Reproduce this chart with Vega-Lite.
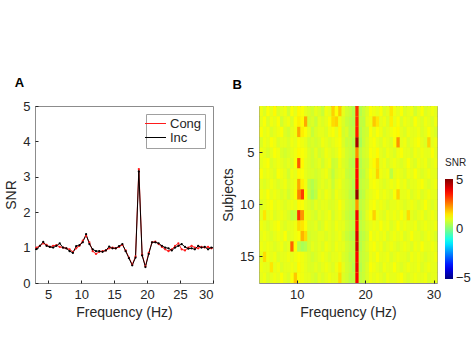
{
"$schema":"https://vega.github.io/schema/vega-lite/v6.json",
"background":"white",
"padding":{"left":4,"top":76,"right":0,"bottom":0},
"spacing":7,
"config":{
 "font":"Liberation Sans",
 "view":{"stroke":"#8c8c8c","strokeWidth":1},
 "axis":{"domain":false,"grid":false,"labelFontSize":13,"titleFontSize":14,"titleFontWeight":"normal","labelColor":"#262626","titleColor":"#262626","tickColor":"#262626","tickSize":-3,"labelPadding":8,"titlePadding":4},
 "title":{"fontSize":13,"fontWeight":"bold","color":"black","anchor":"start","frame":"bounds"}
},
"resolve":{"scale":{"color":"independent"},"legend":{"color":"independent"}},
"datasets":{
"snr":[
{"f":2.75,"c":"Cong","v":0.97},{"f":3.25,"c":"Cong","v":1.00},{"f":3.75,"c":"Cong","v":1.05},{"f":4.25,"c":"Cong","v":1.12},{"f":4.75,"c":"Cong","v":1.08},{"f":5.25,"c":"Cong","v":1.02},{"f":5.75,"c":"Cong","v":1.05},{"f":6.25,"c":"Cong","v":1.07},{"f":6.75,"c":"Cong","v":1.02},{"f":7.25,"c":"Cong","v":1.00},{"f":7.75,"c":"Cong","v":0.98},{"f":8.25,"c":"Cong","v":0.95},{"f":8.75,"c":"Cong","v":0.88},{"f":9.25,"c":"Cong","v":0.98},{"f":9.75,"c":"Cong","v":1.05},{"f":10.25,"c":"Cong","v":1.20},{"f":10.75,"c":"Cong","v":1.33},{"f":11.25,"c":"Cong","v":1.15},{"f":11.75,"c":"Cong","v":0.90},{"f":12.25,"c":"Cong","v":0.82},{"f":12.75,"c":"Cong","v":0.88},{"f":13.25,"c":"Cong","v":0.90},{"f":13.75,"c":"Cong","v":0.92},{"f":14.25,"c":"Cong","v":0.98},{"f":14.75,"c":"Cong","v":1.00},{"f":15.25,"c":"Cong","v":0.98},{"f":15.75,"c":"Cong","v":1.02},{"f":16.25,"c":"Cong","v":1.08},{"f":16.75,"c":"Cong","v":0.92},{"f":17.25,"c":"Cong","v":0.72},{"f":17.75,"c":"Cong","v":0.52},{"f":18.25,"c":"Cong","v":0.75},{"f":18.75,"c":"Cong","v":3.22},{"f":19.25,"c":"Cong","v":0.80},{"f":19.75,"c":"Cong","v":0.47},{"f":20.25,"c":"Cong","v":0.85},{"f":20.75,"c":"Cong","v":1.15},{"f":21.25,"c":"Cong","v":1.17},{"f":21.75,"c":"Cong","v":1.10},{"f":22.25,"c":"Cong","v":1.02},{"f":22.75,"c":"Cong","v":0.95},{"f":23.25,"c":"Cong","v":0.90},{"f":23.75,"c":"Cong","v":0.95},{"f":24.25,"c":"Cong","v":1.05},{"f":24.75,"c":"Cong","v":1.12},{"f":25.25,"c":"Cong","v":0.95},{"f":25.75,"c":"Cong","v":0.92},{"f":26.25,"c":"Cong","v":1.00},{"f":26.75,"c":"Cong","v":1.05},{"f":27.25,"c":"Cong","v":1.00},{"f":27.75,"c":"Cong","v":0.98},{"f":28.25,"c":"Cong","v":1.02},{"f":28.75,"c":"Cong","v":1.00},{"f":29.25,"c":"Cong","v":1.02},{"f":29.75,"c":"Cong","v":0.98},{"f":30.25,"c":"Cong","v":1.00},
{"f":2.75,"c":"Inc","v":0.93},{"f":3.25,"c":"Inc","v":0.96},{"f":3.75,"c":"Inc","v":1.05},{"f":4.25,"c":"Inc","v":1.16},{"f":4.75,"c":"Inc","v":1.05},{"f":5.25,"c":"Inc","v":1.02},{"f":5.75,"c":"Inc","v":1.00},{"f":6.25,"c":"Inc","v":1.05},{"f":6.75,"c":"Inc","v":1.12},{"f":7.25,"c":"Inc","v":1.00},{"f":7.75,"c":"Inc","v":0.98},{"f":8.25,"c":"Inc","v":0.90},{"f":8.75,"c":"Inc","v":0.85},{"f":9.25,"c":"Inc","v":1.04},{"f":9.75,"c":"Inc","v":1.07},{"f":10.25,"c":"Inc","v":1.15},{"f":10.75,"c":"Inc","v":1.38},{"f":11.25,"c":"Inc","v":1.10},{"f":11.75,"c":"Inc","v":0.95},{"f":12.25,"c":"Inc","v":0.90},{"f":12.75,"c":"Inc","v":0.90},{"f":13.25,"c":"Inc","v":0.88},{"f":13.75,"c":"Inc","v":0.92},{"f":14.25,"c":"Inc","v":1.03},{"f":14.75,"c":"Inc","v":0.98},{"f":15.25,"c":"Inc","v":0.98},{"f":15.75,"c":"Inc","v":1.04},{"f":16.25,"c":"Inc","v":1.10},{"f":16.75,"c":"Inc","v":0.90},{"f":17.25,"c":"Inc","v":0.70},{"f":17.75,"c":"Inc","v":0.50},{"f":18.25,"c":"Inc","v":0.72},{"f":18.75,"c":"Inc","v":3.15},{"f":19.25,"c":"Inc","v":0.78},{"f":19.75,"c":"Inc","v":0.45},{"f":20.25,"c":"Inc","v":0.82},{"f":20.75,"c":"Inc","v":1.15},{"f":21.25,"c":"Inc","v":1.15},{"f":21.75,"c":"Inc","v":1.12},{"f":22.25,"c":"Inc","v":1.05},{"f":22.75,"c":"Inc","v":1.00},{"f":23.25,"c":"Inc","v":0.98},{"f":23.75,"c":"Inc","v":0.92},{"f":24.25,"c":"Inc","v":1.00},{"f":24.75,"c":"Inc","v":1.05},{"f":25.25,"c":"Inc","v":1.10},{"f":25.75,"c":"Inc","v":1.02},{"f":26.25,"c":"Inc","v":0.97},{"f":26.75,"c":"Inc","v":0.98},{"f":27.25,"c":"Inc","v":0.95},{"f":27.75,"c":"Inc","v":1.05},{"f":28.25,"c":"Inc","v":1.00},{"f":28.75,"c":"Inc","v":1.02},{"f":29.25,"c":"Inc","v":0.95},{"f":29.75,"c":"Inc","v":1.00},{"f":30.25,"c":"Inc","v":1.00}
],
"cells":[
{"f":4.75,"s":1,"v":1.1},{"f":5.25,"s":1,"v":0.9},{"f":5.75,"s":1,"v":1.2},{"f":6.25,"s":1,"v":1.0},{"f":6.75,"s":1,"v":1.3},{"f":7.25,"s":1,"v":0.9},{"f":7.75,"s":1,"v":1.0},{"f":8.25,"s":1,"v":1.1},{"f":8.75,"s":1,"v":0.8},{"f":9.25,"s":1,"v":1.2},{"f":9.75,"s":1,"v":1.0},{"f":10.25,"s":1,"v":1.3},{"f":10.75,"s":1,"v":1.2},{"f":11.25,"s":1,"v":1.0},{"f":11.75,"s":1,"v":0.9},{"f":12.25,"s":1,"v":0.8},{"f":12.75,"s":1,"v":1.0},{"f":13.25,"s":1,"v":0.9},{"f":13.75,"s":1,"v":0.7},{"f":14.25,"s":1,"v":1.1},{"f":14.75,"s":1,"v":1.0},{"f":15.25,"s":1,"v":1.7},{"f":15.75,"s":1,"v":1.2},{"f":16.25,"s":1,"v":1.8},{"f":16.75,"s":1,"v":1.0},{"f":17.25,"s":1,"v":0.8},{"f":17.75,"s":1,"v":0.7},{"f":18.25,"s":1,"v":0.5},{"f":18.75,"s":1,"v":3.3},{"f":19.25,"s":1,"v":0.5},{"f":19.75,"s":1,"v":0.7},{"f":20.25,"s":1,"v":0.9},{"f":20.75,"s":1,"v":1.2},{"f":21.25,"s":1,"v":1.1},{"f":21.75,"s":1,"v":1.0},{"f":22.25,"s":1,"v":1.2},{"f":22.75,"s":1,"v":0.9},{"f":23.25,"s":1,"v":1.0},{"f":23.75,"s":1,"v":1.5},{"f":24.25,"s":1,"v":1.1},{"f":24.75,"s":1,"v":1.0},{"f":25.25,"s":1,"v":1.2},{"f":25.75,"s":1,"v":0.9},{"f":26.25,"s":1,"v":1.0},{"f":26.75,"s":1,"v":1.1},{"f":27.25,"s":1,"v":0.8},{"f":27.75,"s":1,"v":1.0},{"f":28.25,"s":1,"v":1.2},{"f":28.75,"s":1,"v":0.9},{"f":29.25,"s":1,"v":1.0},{"f":29.75,"s":1,"v":1.1},{"f":30.25,"s":1,"v":1.0},
{"f":4.75,"s":2,"v":1.0},{"f":5.25,"s":2,"v":1.2},{"f":5.75,"s":2,"v":0.9},{"f":6.25,"s":2,"v":1.1},{"f":6.75,"s":2,"v":1.0},{"f":7.25,"s":2,"v":1.2},{"f":7.75,"s":2,"v":0.8},{"f":8.25,"s":2,"v":1.0},{"f":8.75,"s":2,"v":1.1},{"f":9.25,"s":2,"v":0.9},{"f":9.75,"s":2,"v":1.2},{"f":10.25,"s":2,"v":1.4},{"f":10.75,"s":2,"v":1.3},{"f":11.25,"s":2,"v":2.1},{"f":11.75,"s":2,"v":0.8},{"f":12.25,"s":2,"v":0.9},{"f":12.75,"s":2,"v":0.7},{"f":13.25,"s":2,"v":1.0},{"f":13.75,"s":2,"v":0.9},{"f":14.25,"s":2,"v":1.0},{"f":14.75,"s":2,"v":1.2},{"f":15.25,"s":2,"v":1.6},{"f":15.75,"s":2,"v":1.7},{"f":16.25,"s":2,"v":1.1},{"f":16.75,"s":2,"v":0.9},{"f":17.25,"s":2,"v":0.7},{"f":17.75,"s":2,"v":0.6},{"f":18.25,"s":2,"v":0.5},{"f":18.75,"s":2,"v":3.4},{"f":19.25,"s":2,"v":0.6},{"f":19.75,"s":2,"v":0.6},{"f":20.25,"s":2,"v":1.0},{"f":20.75,"s":2,"v":1.1},{"f":21.25,"s":2,"v":1.8},{"f":21.75,"s":2,"v":1.5},{"f":22.25,"s":2,"v":1.0},{"f":22.75,"s":2,"v":1.1},{"f":23.25,"s":2,"v":0.9},{"f":23.75,"s":2,"v":1.4},{"f":24.25,"s":2,"v":1.0},{"f":24.75,"s":2,"v":1.2},{"f":25.25,"s":2,"v":0.9},{"f":25.75,"s":2,"v":1.1},{"f":26.25,"s":2,"v":1.0},{"f":26.75,"s":2,"v":0.9},{"f":27.25,"s":2,"v":1.2},{"f":27.75,"s":2,"v":1.0},{"f":28.25,"s":2,"v":0.9},{"f":28.75,"s":2,"v":1.1},{"f":29.25,"s":2,"v":1.0},{"f":29.75,"s":2,"v":0.9},{"f":30.25,"s":2,"v":1.1},
{"f":4.75,"s":3,"v":1.2},{"f":5.25,"s":3,"v":1.0},{"f":5.75,"s":3,"v":1.1},{"f":6.25,"s":3,"v":0.9},{"f":6.75,"s":3,"v":1.0},{"f":7.25,"s":3,"v":1.1},{"f":7.75,"s":3,"v":1.2},{"f":8.25,"s":3,"v":0.9},{"f":8.75,"s":3,"v":0.8},{"f":9.25,"s":3,"v":1.0},{"f":9.75,"s":3,"v":1.1},{"f":10.25,"s":3,"v":2.1},{"f":10.75,"s":3,"v":1.4},{"f":11.25,"s":3,"v":1.2},{"f":11.75,"s":3,"v":1.0},{"f":12.25,"s":3,"v":0.7},{"f":12.75,"s":3,"v":0.9},{"f":13.25,"s":3,"v":1.0},{"f":13.75,"s":3,"v":1.0},{"f":14.25,"s":3,"v":0.9},{"f":14.75,"s":3,"v":1.1},{"f":15.25,"s":3,"v":1.2},{"f":15.75,"s":3,"v":1.0},{"f":16.25,"s":3,"v":1.3},{"f":16.75,"s":3,"v":0.8},{"f":17.25,"s":3,"v":0.9},{"f":17.75,"s":3,"v":0.6},{"f":18.25,"s":3,"v":0.6},{"f":18.75,"s":3,"v":3.5},{"f":19.25,"s":3,"v":0.5},{"f":19.75,"s":3,"v":0.7},{"f":20.25,"s":3,"v":0.8},{"f":20.75,"s":3,"v":1.2},{"f":21.25,"s":3,"v":1.0},{"f":21.75,"s":3,"v":1.2},{"f":22.25,"s":3,"v":1.1},{"f":22.75,"s":3,"v":0.9},{"f":23.25,"s":3,"v":1.0},{"f":23.75,"s":3,"v":1.1},{"f":24.25,"s":3,"v":1.2},{"f":24.75,"s":3,"v":1.3},{"f":25.25,"s":3,"v":1.0},{"f":25.75,"s":3,"v":0.9},{"f":26.25,"s":3,"v":1.1},{"f":26.75,"s":3,"v":1.0},{"f":27.25,"s":3,"v":1.0},{"f":27.75,"s":3,"v":1.1},{"f":28.25,"s":3,"v":0.9},{"f":28.75,"s":3,"v":1.0},{"f":29.25,"s":3,"v":1.2},{"f":29.75,"s":3,"v":1.0},{"f":30.25,"s":3,"v":0.9},
{"f":4.75,"s":4,"v":0.9},{"f":5.25,"s":4,"v":1.1},{"f":5.75,"s":4,"v":1.0},{"f":6.25,"s":4,"v":1.2},{"f":6.75,"s":4,"v":1.1},{"f":7.25,"s":4,"v":0.9},{"f":7.75,"s":4,"v":1.0},{"f":8.25,"s":4,"v":1.0},{"f":8.75,"s":4,"v":0.9},{"f":9.25,"s":4,"v":1.1},{"f":9.75,"s":4,"v":1.0},{"f":10.25,"s":4,"v":1.2},{"f":10.75,"s":4,"v":1.1},{"f":11.25,"s":4,"v":1.0},{"f":11.75,"s":4,"v":0.8},{"f":12.25,"s":4,"v":0.9},{"f":12.75,"s":4,"v":0.8},{"f":13.25,"s":4,"v":0.9},{"f":13.75,"s":4,"v":1.1},{"f":14.25,"s":4,"v":1.0},{"f":14.75,"s":4,"v":0.9},{"f":15.25,"s":4,"v":1.0},{"f":15.75,"s":4,"v":1.1},{"f":16.25,"s":4,"v":1.2},{"f":16.75,"s":4,"v":0.9},{"f":17.25,"s":4,"v":0.7},{"f":17.75,"s":4,"v":0.7},{"f":18.25,"s":4,"v":0.5},{"f":18.75,"s":4,"v":4.6},{"f":19.25,"s":4,"v":0.4},{"f":19.75,"s":4,"v":0.7},{"f":20.25,"s":4,"v":0.9},{"f":20.75,"s":4,"v":1.1},{"f":21.25,"s":4,"v":1.2},{"f":21.75,"s":4,"v":1.0},{"f":22.25,"s":4,"v":0.9},{"f":22.75,"s":4,"v":1.1},{"f":23.25,"s":4,"v":1.0},{"f":23.75,"s":4,"v":0.9},{"f":24.25,"s":4,"v":1.2},{"f":24.75,"s":4,"v":2.3},{"f":25.25,"s":4,"v":1.0},{"f":25.75,"s":4,"v":1.1},{"f":26.25,"s":4,"v":0.9},{"f":26.75,"s":4,"v":1.0},{"f":27.25,"s":4,"v":1.1},{"f":27.75,"s":4,"v":1.2},{"f":28.25,"s":4,"v":1.0},{"f":28.75,"s":4,"v":0.9},{"f":29.25,"s":4,"v":1.7},{"f":29.75,"s":4,"v":1.0},{"f":30.25,"s":4,"v":1.1},
{"f":4.75,"s":5,"v":1.1},{"f":5.25,"s":5,"v":1.0},{"f":5.75,"s":5,"v":0.9},{"f":6.25,"s":5,"v":1.0},{"f":6.75,"s":5,"v":1.2},{"f":7.25,"s":5,"v":1.1},{"f":7.75,"s":5,"v":0.9},{"f":8.25,"s":5,"v":0.8},{"f":8.75,"s":5,"v":0.9},{"f":9.25,"s":5,"v":1.0},{"f":9.75,"s":5,"v":1.1},{"f":10.25,"s":5,"v":1.3},{"f":10.75,"s":5,"v":1.2},{"f":11.25,"s":5,"v":1.1},{"f":11.75,"s":5,"v":0.9},{"f":12.25,"s":5,"v":0.8},{"f":12.75,"s":5,"v":1.0},{"f":13.25,"s":5,"v":0.8},{"f":13.75,"s":5,"v":0.9},{"f":14.25,"s":5,"v":1.1},{"f":14.75,"s":5,"v":1.0},{"f":15.25,"s":5,"v":0.9},{"f":15.75,"s":5,"v":1.0},{"f":16.25,"s":5,"v":1.2},{"f":16.75,"s":5,"v":1.0},{"f":17.25,"s":5,"v":0.8},{"f":17.75,"s":5,"v":0.7},{"f":18.25,"s":5,"v":0.6},{"f":18.75,"s":5,"v":2.4},{"f":19.25,"s":5,"v":0.6},{"f":19.75,"s":5,"v":0.8},{"f":20.25,"s":5,"v":0.9},{"f":20.75,"s":5,"v":1.2},{"f":21.25,"s":5,"v":1.1},{"f":21.75,"s":5,"v":1.3},{"f":22.25,"s":5,"v":1.0},{"f":22.75,"s":5,"v":0.9},{"f":23.25,"s":5,"v":1.1},{"f":23.75,"s":5,"v":1.0},{"f":24.25,"s":5,"v":0.9},{"f":24.75,"s":5,"v":1.1},{"f":25.25,"s":5,"v":1.2},{"f":25.75,"s":5,"v":1.0},{"f":26.25,"s":5,"v":1.0},{"f":26.75,"s":5,"v":0.9},{"f":27.25,"s":5,"v":1.1},{"f":27.75,"s":5,"v":1.0},{"f":28.25,"s":5,"v":1.1},{"f":28.75,"s":5,"v":1.0},{"f":29.25,"s":5,"v":1.0},{"f":29.75,"s":5,"v":1.2},{"f":30.25,"s":5,"v":1.0},
{"f":4.75,"s":6,"v":1.0},{"f":5.25,"s":6,"v":1.1},{"f":5.75,"s":6,"v":1.2},{"f":6.25,"s":6,"v":0.9},{"f":6.75,"s":6,"v":1.0},{"f":7.25,"s":6,"v":1.1},{"f":7.75,"s":6,"v":1.0},{"f":8.25,"s":6,"v":0.9},{"f":8.75,"s":6,"v":1.0},{"f":9.25,"s":6,"v":0.9},{"f":9.75,"s":6,"v":1.2},{"f":10.25,"s":6,"v":2.9},{"f":10.75,"s":6,"v":1.3},{"f":11.25,"s":6,"v":1.0},{"f":11.75,"s":6,"v":0.9},{"f":12.25,"s":6,"v":0.8},{"f":12.75,"s":6,"v":0.9},{"f":13.25,"s":6,"v":1.0},{"f":13.75,"s":6,"v":0.8},{"f":14.25,"s":6,"v":1.0},{"f":14.75,"s":6,"v":1.1},{"f":15.25,"s":6,"v":0.7},{"f":15.75,"s":6,"v":0.8},{"f":16.25,"s":6,"v":1.1},{"f":16.75,"s":6,"v":0.9},{"f":17.25,"s":6,"v":0.8},{"f":17.75,"s":6,"v":0.6},{"f":18.25,"s":6,"v":0.5},{"f":18.75,"s":6,"v":3.6},{"f":19.25,"s":6,"v":0.5},{"f":19.75,"s":6,"v":0.7},{"f":20.25,"s":6,"v":0.8},{"f":20.75,"s":6,"v":1.1},{"f":21.25,"s":6,"v":1.3},{"f":21.75,"s":6,"v":1.6},{"f":22.25,"s":6,"v":1.0},{"f":22.75,"s":6,"v":1.1},{"f":23.25,"s":6,"v":0.9},{"f":23.75,"s":6,"v":1.0},{"f":24.25,"s":6,"v":1.1},{"f":24.75,"s":6,"v":1.0},{"f":25.25,"s":6,"v":0.9},{"f":25.75,"s":6,"v":1.0},{"f":26.25,"s":6,"v":1.2},{"f":26.75,"s":6,"v":1.0},{"f":27.25,"s":6,"v":0.9},{"f":27.75,"s":6,"v":1.1},{"f":28.25,"s":6,"v":1.0},{"f":28.75,"s":6,"v":1.1},{"f":29.25,"s":6,"v":0.9},{"f":29.75,"s":6,"v":1.0},{"f":30.25,"s":6,"v":1.1},
{"f":4.75,"s":7,"v":1.2},{"f":5.25,"s":7,"v":1.0},{"f":5.75,"s":7,"v":1.1},{"f":6.25,"s":7,"v":1.0},{"f":6.75,"s":7,"v":0.9},{"f":7.25,"s":7,"v":1.2},{"f":7.75,"s":7,"v":1.1},{"f":8.25,"s":7,"v":1.0},{"f":8.75,"s":7,"v":0.8},{"f":9.25,"s":7,"v":1.1},{"f":9.75,"s":7,"v":1.0},{"f":10.25,"s":7,"v":1.3},{"f":10.75,"s":7,"v":1.2},{"f":11.25,"s":7,"v":1.0},{"f":11.75,"s":7,"v":0.9},{"f":12.25,"s":7,"v":0.9},{"f":12.75,"s":7,"v":0.8},{"f":13.25,"s":7,"v":0.9},{"f":13.75,"s":7,"v":1.0},{"f":14.25,"s":7,"v":1.1},{"f":14.75,"s":7,"v":0.9},{"f":15.25,"s":7,"v":0.6},{"f":15.75,"s":7,"v":0.9},{"f":16.25,"s":7,"v":1.0},{"f":16.75,"s":7,"v":1.0},{"f":17.25,"s":7,"v":0.7},{"f":17.75,"s":7,"v":0.6},{"f":18.25,"s":7,"v":0.6},{"f":18.75,"s":7,"v":3.7},{"f":19.25,"s":7,"v":0.5},{"f":19.75,"s":7,"v":0.6},{"f":20.25,"s":7,"v":0.9},{"f":20.75,"s":7,"v":1.2},{"f":21.25,"s":7,"v":1.1},{"f":21.75,"s":7,"v":1.7},{"f":22.25,"s":7,"v":1.1},{"f":22.75,"s":7,"v":1.0},{"f":23.25,"s":7,"v":1.1},{"f":23.75,"s":7,"v":0.6},{"f":24.25,"s":7,"v":1.0},{"f":24.75,"s":7,"v":1.1},{"f":25.25,"s":7,"v":1.0},{"f":25.75,"s":7,"v":0.9},{"f":26.25,"s":7,"v":1.1},{"f":26.75,"s":7,"v":1.0},{"f":27.25,"s":7,"v":1.2},{"f":27.75,"s":7,"v":1.0},{"f":28.25,"s":7,"v":0.9},{"f":28.75,"s":7,"v":1.0},{"f":29.25,"s":7,"v":1.1},{"f":29.75,"s":7,"v":1.0},{"f":30.25,"s":7,"v":1.0},
{"f":4.75,"s":8,"v":1.0},{"f":5.25,"s":8,"v":0.9},{"f":5.75,"s":8,"v":1.0},{"f":6.25,"s":8,"v":1.1},{"f":6.75,"s":8,"v":1.0},{"f":7.25,"s":8,"v":0.9},{"f":7.75,"s":8,"v":1.0},{"f":8.25,"s":8,"v":1.1},{"f":8.75,"s":8,"v":0.9},{"f":9.25,"s":8,"v":1.0},{"f":9.75,"s":8,"v":1.1},{"f":10.25,"s":8,"v":2.1},{"f":10.75,"s":8,"v":1.4},{"f":11.25,"s":8,"v":1.1},{"f":11.75,"s":8,"v":0.6},{"f":12.25,"s":8,"v":0.5},{"f":12.75,"s":8,"v":0.7},{"f":13.25,"s":8,"v":0.9},{"f":13.75,"s":8,"v":1.0},{"f":14.25,"s":8,"v":0.9},{"f":14.75,"s":8,"v":1.0},{"f":15.25,"s":8,"v":0.7},{"f":15.75,"s":8,"v":1.0},{"f":16.25,"s":8,"v":1.1},{"f":16.75,"s":8,"v":0.9},{"f":17.25,"s":8,"v":0.8},{"f":17.75,"s":8,"v":0.7},{"f":18.25,"s":8,"v":0.5},{"f":18.75,"s":8,"v":3.8},{"f":19.25,"s":8,"v":0.6},{"f":19.75,"s":8,"v":0.7},{"f":20.25,"s":8,"v":0.8},{"f":20.75,"s":8,"v":1.1},{"f":21.25,"s":8,"v":1.2},{"f":21.75,"s":8,"v":1.1},{"f":22.25,"s":8,"v":1.0},{"f":22.75,"s":8,"v":0.9},{"f":23.25,"s":8,"v":1.0},{"f":23.75,"s":8,"v":1.1},{"f":24.25,"s":8,"v":1.0},{"f":24.75,"s":8,"v":1.2},{"f":25.25,"s":8,"v":1.0},{"f":25.75,"s":8,"v":1.1},{"f":26.25,"s":8,"v":0.9},{"f":26.75,"s":8,"v":1.0},{"f":27.25,"s":8,"v":1.0},{"f":27.75,"s":8,"v":1.1},{"f":28.25,"s":8,"v":1.2},{"f":28.75,"s":8,"v":1.0},{"f":29.25,"s":8,"v":0.9},{"f":29.75,"s":8,"v":1.0},{"f":30.25,"s":8,"v":1.1},
{"f":4.75,"s":9,"v":1.1},{"f":5.25,"s":9,"v":1.0},{"f":5.75,"s":9,"v":1.2},{"f":6.25,"s":9,"v":1.0},{"f":6.75,"s":9,"v":1.1},{"f":7.25,"s":9,"v":1.0},{"f":7.75,"s":9,"v":0.9},{"f":8.25,"s":9,"v":1.0},{"f":8.75,"s":9,"v":0.8},{"f":9.25,"s":9,"v":1.0},{"f":9.75,"s":9,"v":1.2},{"f":10.25,"s":9,"v":2.5},{"f":10.75,"s":9,"v":3.2},{"f":11.25,"s":9,"v":1.2},{"f":11.75,"s":9,"v":0.6},{"f":12.25,"s":9,"v":0.4},{"f":12.75,"s":9,"v":0.6},{"f":13.25,"s":9,"v":1.0},{"f":13.75,"s":9,"v":0.9},{"f":14.25,"s":9,"v":1.1},{"f":14.75,"s":9,"v":1.0},{"f":15.25,"s":9,"v":0.8},{"f":15.75,"s":9,"v":1.1},{"f":16.25,"s":9,"v":1.0},{"f":16.75,"s":9,"v":0.9},{"f":17.25,"s":9,"v":0.8},{"f":17.75,"s":9,"v":0.6},{"f":18.25,"s":9,"v":0.5},{"f":18.75,"s":9,"v":4.8},{"f":19.25,"s":9,"v":0.5},{"f":19.75,"s":9,"v":0.6},{"f":20.25,"s":9,"v":0.9},{"f":20.75,"s":9,"v":1.0},{"f":21.25,"s":9,"v":1.1},{"f":21.75,"s":9,"v":1.2},{"f":22.25,"s":9,"v":1.0},{"f":22.75,"s":9,"v":1.1},{"f":23.25,"s":9,"v":1.0},{"f":23.75,"s":9,"v":0.9},{"f":24.25,"s":9,"v":1.2},{"f":24.75,"s":9,"v":1.7},{"f":25.25,"s":9,"v":1.0},{"f":25.75,"s":9,"v":1.0},{"f":26.25,"s":9,"v":1.1},{"f":26.75,"s":9,"v":0.9},{"f":27.25,"s":9,"v":1.0},{"f":27.75,"s":9,"v":1.1},{"f":28.25,"s":9,"v":0.9},{"f":28.75,"s":9,"v":1.0},{"f":29.25,"s":9,"v":1.1},{"f":29.75,"s":9,"v":1.0},{"f":30.25,"s":9,"v":1.0},
{"f":4.75,"s":10,"v":0.9},{"f":5.25,"s":10,"v":1.0},{"f":5.75,"s":10,"v":1.1},{"f":6.25,"s":10,"v":1.2},{"f":6.75,"s":10,"v":1.0},{"f":7.25,"s":10,"v":1.1},{"f":7.75,"s":10,"v":1.0},{"f":8.25,"s":10,"v":0.9},{"f":8.75,"s":10,"v":1.0},{"f":9.25,"s":10,"v":1.1},{"f":9.75,"s":10,"v":1.0},{"f":10.25,"s":10,"v":1.3},{"f":10.75,"s":10,"v":1.2},{"f":11.25,"s":10,"v":1.0},{"f":11.75,"s":10,"v":0.9},{"f":12.25,"s":10,"v":0.8},{"f":12.75,"s":10,"v":1.0},{"f":13.25,"s":10,"v":0.9},{"f":13.75,"s":10,"v":1.0},{"f":14.25,"s":10,"v":1.0},{"f":14.75,"s":10,"v":0.9},{"f":15.25,"s":10,"v":0.9},{"f":15.75,"s":10,"v":1.0},{"f":16.25,"s":10,"v":1.2},{"f":16.75,"s":10,"v":1.0},{"f":17.25,"s":10,"v":0.8},{"f":17.75,"s":10,"v":0.7},{"f":18.25,"s":10,"v":0.6},{"f":18.75,"s":10,"v":2.3},{"f":19.25,"s":10,"v":0.6},{"f":19.75,"s":10,"v":0.7},{"f":20.25,"s":10,"v":0.9},{"f":20.75,"s":10,"v":1.1},{"f":21.25,"s":10,"v":1.2},{"f":21.75,"s":10,"v":1.0},{"f":22.25,"s":10,"v":1.1},{"f":22.75,"s":10,"v":1.0},{"f":23.25,"s":10,"v":0.9},{"f":23.75,"s":10,"v":1.0},{"f":24.25,"s":10,"v":1.0},{"f":24.75,"s":10,"v":1.1},{"f":25.25,"s":10,"v":1.0},{"f":25.75,"s":10,"v":0.9},{"f":26.25,"s":10,"v":1.0},{"f":26.75,"s":10,"v":1.1},{"f":27.25,"s":10,"v":1.0},{"f":27.75,"s":10,"v":0.9},{"f":28.25,"s":10,"v":1.0},{"f":28.75,"s":10,"v":1.2},{"f":29.25,"s":10,"v":1.0},{"f":29.75,"s":10,"v":0.9},{"f":30.25,"s":10,"v":1.0},
{"f":4.75,"s":11,"v":1.0},{"f":5.25,"s":11,"v":1.5},{"f":5.75,"s":11,"v":1.0},{"f":6.25,"s":11,"v":1.1},{"f":6.75,"s":11,"v":0.9},{"f":7.25,"s":11,"v":1.0},{"f":7.75,"s":11,"v":1.1},{"f":8.25,"s":11,"v":1.0},{"f":8.75,"s":11,"v":0.9},{"f":9.25,"s":11,"v":0.6},{"f":9.75,"s":11,"v":0.7},{"f":10.25,"s":11,"v":3.3},{"f":10.75,"s":11,"v":2.3},{"f":11.25,"s":11,"v":1.1},{"f":11.75,"s":11,"v":1.0},{"f":12.25,"s":11,"v":0.9},{"f":12.75,"s":11,"v":0.8},{"f":13.25,"s":11,"v":1.0},{"f":13.75,"s":11,"v":0.9},{"f":14.25,"s":11,"v":1.0},{"f":14.75,"s":11,"v":1.1},{"f":15.25,"s":11,"v":0.8},{"f":15.75,"s":11,"v":1.0},{"f":16.25,"s":11,"v":1.1},{"f":16.75,"s":11,"v":0.9},{"f":17.25,"s":11,"v":0.7},{"f":17.75,"s":11,"v":0.6},{"f":18.25,"s":11,"v":0.5},{"f":18.75,"s":11,"v":3.9},{"f":19.25,"s":11,"v":0.5},{"f":19.75,"s":11,"v":0.7},{"f":20.25,"s":11,"v":1.0},{"f":20.75,"s":11,"v":1.2},{"f":21.25,"s":11,"v":1.7},{"f":21.75,"s":11,"v":1.1},{"f":22.25,"s":11,"v":1.0},{"f":22.75,"s":11,"v":0.9},{"f":23.25,"s":11,"v":1.1},{"f":23.75,"s":11,"v":1.0},{"f":24.25,"s":11,"v":1.1},{"f":24.75,"s":11,"v":1.0},{"f":25.25,"s":11,"v":1.2},{"f":25.75,"s":11,"v":1.0},{"f":26.25,"s":11,"v":1.6},{"f":26.75,"s":11,"v":1.0},{"f":27.25,"s":11,"v":0.9},{"f":27.75,"s":11,"v":1.0},{"f":28.25,"s":11,"v":1.1},{"f":28.75,"s":11,"v":0.9},{"f":29.25,"s":11,"v":1.0},{"f":29.75,"s":11,"v":1.1},{"f":30.25,"s":11,"v":1.0},
{"f":4.75,"s":12,"v":1.1},{"f":5.25,"s":12,"v":1.0},{"f":5.75,"s":12,"v":0.9},{"f":6.25,"s":12,"v":1.0},{"f":6.75,"s":12,"v":1.1},{"f":7.25,"s":12,"v":1.2},{"f":7.75,"s":12,"v":1.0},{"f":8.25,"s":12,"v":0.9},{"f":8.75,"s":12,"v":1.0},{"f":9.25,"s":12,"v":1.0},{"f":9.75,"s":12,"v":1.1},{"f":10.25,"s":12,"v":1.6},{"f":10.75,"s":12,"v":1.5},{"f":11.25,"s":12,"v":1.2},{"f":11.75,"s":12,"v":0.9},{"f":12.25,"s":12,"v":0.9},{"f":12.75,"s":12,"v":1.0},{"f":13.25,"s":12,"v":0.8},{"f":13.75,"s":12,"v":0.9},{"f":14.25,"s":12,"v":1.1},{"f":14.75,"s":12,"v":1.0},{"f":15.25,"s":12,"v":0.9},{"f":15.75,"s":12,"v":1.1},{"f":16.25,"s":12,"v":1.0},{"f":16.75,"s":12,"v":1.0},{"f":17.25,"s":12,"v":0.8},{"f":17.75,"s":12,"v":0.7},{"f":18.25,"s":12,"v":0.6},{"f":18.75,"s":12,"v":3.7},{"f":19.25,"s":12,"v":0.6},{"f":19.75,"s":12,"v":0.7},{"f":20.25,"s":12,"v":0.9},{"f":20.75,"s":12,"v":1.0},{"f":21.25,"s":12,"v":1.1},{"f":21.75,"s":12,"v":1.0},{"f":22.25,"s":12,"v":1.2},{"f":22.75,"s":12,"v":1.0},{"f":23.25,"s":12,"v":1.1},{"f":23.75,"s":12,"v":0.9},{"f":24.25,"s":12,"v":1.0},{"f":24.75,"s":12,"v":1.2},{"f":25.25,"s":12,"v":1.0},{"f":25.75,"s":12,"v":1.1},{"f":26.25,"s":12,"v":1.0},{"f":26.75,"s":12,"v":1.0},{"f":27.25,"s":12,"v":1.1},{"f":27.75,"s":12,"v":0.9},{"f":28.25,"s":12,"v":1.0},{"f":28.75,"s":12,"v":1.1},{"f":29.25,"s":12,"v":1.0},{"f":29.75,"s":12,"v":1.0},{"f":30.25,"s":12,"v":1.1},
{"f":4.75,"s":13,"v":1.0},{"f":5.25,"s":13,"v":1.1},{"f":5.75,"s":13,"v":1.0},{"f":6.25,"s":13,"v":0.9},{"f":6.75,"s":13,"v":1.0},{"f":7.25,"s":13,"v":1.1},{"f":7.75,"s":13,"v":1.0},{"f":8.25,"s":13,"v":1.2},{"f":8.75,"s":13,"v":0.9},{"f":9.25,"s":13,"v":1.0},{"f":9.75,"s":13,"v":1.1},{"f":10.25,"s":13,"v":1.2},{"f":10.75,"s":13,"v":2.0},{"f":11.25,"s":13,"v":1.6},{"f":11.75,"s":13,"v":0.8},{"f":12.25,"s":13,"v":0.9},{"f":12.75,"s":13,"v":0.9},{"f":13.25,"s":13,"v":1.0},{"f":13.75,"s":13,"v":1.0},{"f":14.25,"s":13,"v":0.9},{"f":14.75,"s":13,"v":1.0},{"f":15.25,"s":13,"v":0.9},{"f":15.75,"s":13,"v":1.0},{"f":16.25,"s":13,"v":1.1},{"f":16.75,"s":13,"v":0.9},{"f":17.25,"s":13,"v":0.7},{"f":17.75,"s":13,"v":0.6},{"f":18.25,"s":13,"v":0.5},{"f":18.75,"s":13,"v":4.1},{"f":19.25,"s":13,"v":0.5},{"f":19.75,"s":13,"v":0.6},{"f":20.25,"s":13,"v":0.8},{"f":20.75,"s":13,"v":1.2},{"f":21.25,"s":13,"v":1.0},{"f":21.75,"s":13,"v":1.1},{"f":22.25,"s":13,"v":1.0},{"f":22.75,"s":13,"v":1.1},{"f":23.25,"s":13,"v":0.9},{"f":23.75,"s":13,"v":1.0},{"f":24.25,"s":13,"v":1.1},{"f":24.75,"s":13,"v":1.0},{"f":25.25,"s":13,"v":1.1},{"f":25.75,"s":13,"v":0.9},{"f":26.25,"s":13,"v":1.0},{"f":26.75,"s":13,"v":1.2},{"f":27.25,"s":13,"v":1.0},{"f":27.75,"s":13,"v":1.0},{"f":28.25,"s":13,"v":0.9},{"f":28.75,"s":13,"v":1.0},{"f":29.25,"s":13,"v":1.1},{"f":29.75,"s":13,"v":1.0},{"f":30.25,"s":13,"v":0.9},
{"f":4.75,"s":14,"v":1.1},{"f":5.25,"s":14,"v":1.0},{"f":5.75,"s":14,"v":1.1},{"f":6.25,"s":14,"v":1.0},{"f":6.75,"s":14,"v":0.9},{"f":7.25,"s":14,"v":1.0},{"f":7.75,"s":14,"v":1.1},{"f":8.25,"s":14,"v":0.9},{"f":8.75,"s":14,"v":1.0},{"f":9.25,"s":14,"v":2.8},{"f":9.75,"s":14,"v":1.2},{"f":10.25,"s":14,"v":0.5},{"f":10.75,"s":14,"v":0.4},{"f":11.25,"s":14,"v":0.5},{"f":11.75,"s":14,"v":0.8},{"f":12.25,"s":14,"v":1.0},{"f":12.75,"s":14,"v":0.9},{"f":13.25,"s":14,"v":1.0},{"f":13.75,"s":14,"v":0.9},{"f":14.25,"s":14,"v":1.1},{"f":14.75,"s":14,"v":1.0},{"f":15.25,"s":14,"v":0.9},{"f":15.75,"s":14,"v":1.1},{"f":16.25,"s":14,"v":1.0},{"f":16.75,"s":14,"v":1.0},{"f":17.25,"s":14,"v":0.8},{"f":17.75,"s":14,"v":0.7},{"f":18.25,"s":14,"v":0.6},{"f":18.75,"s":14,"v":4.2},{"f":19.25,"s":14,"v":0.5},{"f":19.75,"s":14,"v":0.7},{"f":20.25,"s":14,"v":0.9},{"f":20.75,"s":14,"v":1.1},{"f":21.25,"s":14,"v":1.2},{"f":21.75,"s":14,"v":1.0},{"f":22.25,"s":14,"v":1.1},{"f":22.75,"s":14,"v":0.9},{"f":23.25,"s":14,"v":1.0},{"f":23.75,"s":14,"v":1.1},{"f":24.25,"s":14,"v":1.0},{"f":24.75,"s":14,"v":0.9},{"f":25.25,"s":14,"v":1.0},{"f":25.75,"s":14,"v":1.1},{"f":26.25,"s":14,"v":1.0},{"f":26.75,"s":14,"v":0.9},{"f":27.25,"s":14,"v":1.1},{"f":27.75,"s":14,"v":1.0},{"f":28.25,"s":14,"v":1.2},{"f":28.75,"s":14,"v":1.0},{"f":29.25,"s":14,"v":1.0},{"f":29.75,"s":14,"v":1.1},{"f":30.25,"s":14,"v":1.0},
{"f":4.75,"s":15,"v":1.0},{"f":5.25,"s":15,"v":1.6},{"f":5.75,"s":15,"v":1.1},{"f":6.25,"s":15,"v":1.0},{"f":6.75,"s":15,"v":1.1},{"f":7.25,"s":15,"v":0.9},{"f":7.75,"s":15,"v":1.0},{"f":8.25,"s":15,"v":1.0},{"f":8.75,"s":15,"v":1.1},{"f":9.25,"s":15,"v":1.0},{"f":9.75,"s":15,"v":1.1},{"f":10.25,"s":15,"v":1.2},{"f":10.75,"s":15,"v":1.1},{"f":11.25,"s":15,"v":1.0},{"f":11.75,"s":15,"v":0.9},{"f":12.25,"s":15,"v":0.8},{"f":12.75,"s":15,"v":0.9},{"f":13.25,"s":15,"v":1.0},{"f":13.75,"s":15,"v":1.1},{"f":14.25,"s":15,"v":1.0},{"f":14.75,"s":15,"v":0.9},{"f":15.25,"s":15,"v":1.0},{"f":15.75,"s":15,"v":1.0},{"f":16.25,"s":15,"v":1.1},{"f":16.75,"s":15,"v":0.9},{"f":17.25,"s":15,"v":0.8},{"f":17.75,"s":15,"v":0.6},{"f":18.25,"s":15,"v":0.6},{"f":18.75,"s":15,"v":3.8},{"f":19.25,"s":15,"v":0.6},{"f":19.75,"s":15,"v":0.7},{"f":20.25,"s":15,"v":0.8},{"f":20.75,"s":15,"v":1.1},{"f":21.25,"s":15,"v":1.0},{"f":21.75,"s":15,"v":1.2},{"f":22.25,"s":15,"v":1.0},{"f":22.75,"s":15,"v":1.0},{"f":23.25,"s":15,"v":1.1},{"f":23.75,"s":15,"v":0.9},{"f":24.25,"s":15,"v":1.0},{"f":24.75,"s":15,"v":1.1},{"f":25.25,"s":15,"v":1.0},{"f":25.75,"s":15,"v":1.0},{"f":26.25,"s":15,"v":0.9},{"f":26.75,"s":15,"v":1.1},{"f":27.25,"s":15,"v":1.0},{"f":27.75,"s":15,"v":1.1},{"f":28.25,"s":15,"v":1.0},{"f":28.75,"s":15,"v":0.9},{"f":29.25,"s":15,"v":1.0},{"f":29.75,"s":15,"v":1.0},{"f":30.25,"s":15,"v":1.1},
{"f":4.75,"s":16,"v":1.1},{"f":5.25,"s":16,"v":1.0},{"f":5.75,"s":16,"v":1.0},{"f":6.25,"s":16,"v":1.5},{"f":6.75,"s":16,"v":1.0},{"f":7.25,"s":16,"v":1.1},{"f":7.75,"s":16,"v":0.9},{"f":8.25,"s":16,"v":1.0},{"f":8.75,"s":16,"v":1.0},{"f":9.25,"s":16,"v":1.1},{"f":9.75,"s":16,"v":1.0},{"f":10.25,"s":16,"v":1.3},{"f":10.75,"s":16,"v":1.1},{"f":11.25,"s":16,"v":1.0},{"f":11.75,"s":16,"v":0.9},{"f":12.25,"s":16,"v":0.9},{"f":12.75,"s":16,"v":1.0},{"f":13.25,"s":16,"v":0.9},{"f":13.75,"s":16,"v":1.0},{"f":14.25,"s":16,"v":1.1},{"f":14.75,"s":16,"v":1.0},{"f":15.25,"s":16,"v":0.9},{"f":15.75,"s":16,"v":1.1},{"f":16.25,"s":16,"v":1.4},{"f":16.75,"s":16,"v":1.0},{"f":17.25,"s":16,"v":0.8},{"f":17.75,"s":16,"v":0.7},{"f":18.25,"s":16,"v":0.5},{"f":18.75,"s":16,"v":3.9},{"f":19.25,"s":16,"v":0.5},{"f":19.75,"s":16,"v":0.7},{"f":20.25,"s":16,"v":0.9},{"f":20.75,"s":16,"v":1.2},{"f":21.25,"s":16,"v":1.1},{"f":21.75,"s":16,"v":1.0},{"f":22.25,"s":16,"v":0.9},{"f":22.75,"s":16,"v":1.1},{"f":23.25,"s":16,"v":1.0},{"f":23.75,"s":16,"v":1.0},{"f":24.25,"s":16,"v":1.2},{"f":24.75,"s":16,"v":1.0},{"f":25.25,"s":16,"v":0.9},{"f":25.75,"s":16,"v":1.0},{"f":26.25,"s":16,"v":1.1},{"f":26.75,"s":16,"v":1.0},{"f":27.25,"s":16,"v":1.0},{"f":27.75,"s":16,"v":1.1},{"f":28.25,"s":16,"v":0.9},{"f":28.75,"s":16,"v":1.0},{"f":29.25,"s":16,"v":1.1},{"f":29.75,"s":16,"v":1.0},{"f":30.25,"s":16,"v":1.0},
{"f":4.75,"s":17,"v":1.0},{"f":5.25,"s":17,"v":1.1},{"f":5.75,"s":17,"v":0.9},{"f":6.25,"s":17,"v":1.0},{"f":6.75,"s":17,"v":1.1},{"f":7.25,"s":17,"v":1.0},{"f":7.75,"s":17,"v":1.2},{"f":8.25,"s":17,"v":1.0},{"f":8.75,"s":17,"v":0.9},{"f":9.25,"s":17,"v":1.2},{"f":9.75,"s":17,"v":1.8},{"f":10.25,"s":17,"v":1.2},{"f":10.75,"s":17,"v":1.1},{"f":11.25,"s":17,"v":1.0},{"f":11.75,"s":17,"v":1.0},{"f":12.25,"s":17,"v":0.9},{"f":12.75,"s":17,"v":0.8},{"f":13.25,"s":17,"v":1.0},{"f":13.75,"s":17,"v":0.9},{"f":14.25,"s":17,"v":1.0},{"f":14.75,"s":17,"v":1.1},{"f":15.25,"s":17,"v":1.0},{"f":15.75,"s":17,"v":1.0},{"f":16.25,"s":17,"v":1.6},{"f":16.75,"s":17,"v":0.9},{"f":17.25,"s":17,"v":0.8},{"f":17.75,"s":17,"v":0.6},{"f":18.25,"s":17,"v":0.6},{"f":18.75,"s":17,"v":3.8},{"f":19.25,"s":17,"v":0.6},{"f":19.75,"s":17,"v":0.7},{"f":20.25,"s":17,"v":0.9},{"f":20.75,"s":17,"v":1.1},{"f":21.25,"s":17,"v":1.0},{"f":21.75,"s":17,"v":1.1},{"f":22.25,"s":17,"v":1.0},{"f":22.75,"s":17,"v":0.9},{"f":23.25,"s":17,"v":1.1},{"f":23.75,"s":17,"v":1.0},{"f":24.25,"s":17,"v":1.0},{"f":24.75,"s":17,"v":1.1},{"f":25.25,"s":17,"v":1.2},{"f":25.75,"s":17,"v":1.0},{"f":26.25,"s":17,"v":0.9},{"f":26.75,"s":17,"v":1.0},{"f":27.25,"s":17,"v":1.1},{"f":27.75,"s":17,"v":1.0},{"f":28.25,"s":17,"v":1.0},{"f":28.75,"s":17,"v":1.1},{"f":29.25,"s":17,"v":0.9},{"f":29.75,"s":17,"v":1.0},{"f":30.25,"s":17,"v":1.0}
]
},
"hconcat":[
{
 "width":178,"height":177,
 "title":{"text":"A","dx":10,"offset":10},
 "data":{"name":"snr"},
 "mark":{"type":"line","strokeWidth":1,"clip":true,"point":{"size":5,"filled":true,"clip":true}},
 "encoding":{
  "x":{"field":"f","type":"quantitative","scale":{"domain":[3,30],"nice":false,"zero":false},"axis":{"values":[5,10,15,20,25,30],"title":"Frequency (Hz)"}},
  "y":{"field":"v","type":"quantitative","scale":{"domain":[0,5],"nice":false},"axis":{"values":[0,1,2,3,4,5],"title":"SNR"}},
  "color":{"field":"c","type":"nominal","scale":{"domain":["Cong","Inc"],"range":["#ff1a1a","#000000"]},
   "legend":{"orient":"top-right","offset":8,"title":null,"symbolType":"M-2,0H2","symbolSize":110,"symbolStrokeWidth":1,"labelFontSize":13,"labelColor":"#262626","strokeColor":"#a0a0a0","fillColor":"white","padding":3,"rowPadding":0,"labelOffset":8}}
 }
},
{
 "width":178,"height":177,
 "title":{"text":"B","dx":11,"offset":14},
 "view":{"fill":"#e4f722","stroke":"#8c8c8c"},
 "data":{"name":"cells"},
 "mark":{"type":"rect","binSpacing":0},
 "encoding":{
  "x":{"field":"f","type":"quantitative","bin":{"extent":[4.5,30.5],"step":0.5},"scale":{"domain":[4.5,30.5],"nice":false,"zero":false},"axis":{"values":[10,20,30],"format":"d","title":"Frequency (Hz)"}},
  "y":{"field":"s","type":"ordinal","scale":{"paddingInner":0,"paddingOuter":0},"axis":{"values":[5,10,15],"labelAngle":0,"title":"Subjects"}},
  "color":{"field":"v","type":"quantitative","scale":{"domain":[-5,-3.75,-1.25,1.25,3.75,5],"range":["#000080","#0000ff","#00ffff","#ffff00","#ff0000","#800000"],"interpolate":"rgb"},
   "legend":{"orient":"none","legendX":186,"legendY":52,"direction":"vertical","gradientLength":100,"gradientThickness":8,"gradientStrokeWidth":0,"values":[-4.9,0,4.9],"format":"d","title":"SNR","titleFontSize":10,"titleFontWeight":"normal","titleColor":"#262626","titlePadding":11,"labelFontSize":13,"labelColor":"#262626","labelOffset":3}}
 }
}
]
}
